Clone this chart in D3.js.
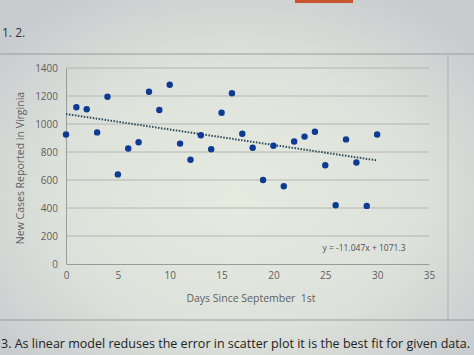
<!DOCTYPE html>
<html><head><meta charset="utf-8">
<script src="https://cdn.jsdelivr.net/npm/d3@7"></script>
<style>html,body{margin:0;padding:0;background:#d6d9d8;}svg{display:block;}</style>
</head><body><div id="c"></div>
<script>
const days = [0,1,2,3,4,5,6,7,8,9,10,11,12,13,14,15,16,17,18,19,20,21,22,23,24,25,26,27,28,29,30];
const cases = [925,1120,1105,940,1195,640,825,870,1230,1100,1280,860,745,920,820,1080,1220,930,830,600,845,555,875,910,945,705,420,890,725,415,925];
const xTicks = [0,5,10,15,20,25,30,35];
const yTicks = [0,200,400,600,800,1000,1200,1400];
const slope = -11.047, intercept = 1071.3;
const trendX = [0,30];

const W=474,H=355;
const svg=d3.select("#c").append("svg").attr("width",W).attr("height",H);
const defs=svg.append("defs");
const g1=defs.append("radialGradient").attr("id","bg").attr("cx","50%").attr("cy","55%").attr("r","65%");
g1.append("stop").attr("offset","0%").attr("stop-color","#e6ebe0");
g1.append("stop").attr("offset","60%").attr("stop-color","#dde1db");
g1.append("stop").attr("offset","100%").attr("stop-color","#c9ccce");
svg.append("rect").attr("width",W).attr("height",H).attr("fill","url(#bg)");
svg.append("rect").attr("x",295).attr("y",0).attr("width",58).attr("height",3).attr("fill","#c9542d");

svg.append("text").attr("x",2).attr("y",37).attr("font-family","Open Sans").attr("font-size",12).attr("fill","#333").text("1. 2.");
svg.append("line").attr("x1",0).attr("x2",474).attr("y1",54).attr("y2",54).attr("stroke","#9a9c9b").attr("stroke-width",1);
svg.append("line").attr("x1",448).attr("x2",448).attr("y1",54).attr("y2",320).attr("stroke","#a8aaa9").attr("stroke-width",0.8);
svg.append("line").attr("x1",0).attr("x2",474).attr("y1",320).attr("y2",320).attr("stroke","#9a9c9b");

const x=d3.scaleLinear().domain([0,35]).range([66,429]);
const y=d3.scaleLinear().domain([0,1400]).range([264,68]);

const grid=svg.append("g");
grid.selectAll("line").data(yTicks.filter(d=>d>0)).join("line")
 .attr("x1",x(0)).attr("x2",x(35)).attr("y1",d=>y(d)).attr("y2",d=>y(d))
 .attr("stroke","#a9aba6").attr("stroke-width",0.8);

const xa=svg.append("g").attr("transform",`translate(0,${y(0)})`)
 .call(d3.axisBottom(x).tickValues(xTicks).tickFormat(d3.format("d")).tickSize(0).tickPadding(8));
xa.select(".domain").attr("stroke","#9a9c98");
xa.selectAll("text").attr("font-family","Open Sans").attr("font-size",10).attr("fill","#5d5f5e");
const ya=svg.append("g").attr("transform",`translate(${x(0)},0)`)
 .call(d3.axisLeft(y).tickValues(yTicks).tickFormat(d3.format("d")).tickSize(0).tickPadding(8));
ya.select(".domain").attr("stroke","#9a9c98");
ya.selectAll("text").attr("font-family","Open Sans").attr("font-size",10).attr("fill","#5d5f5e");

svg.append("text").attr("transform","translate(24,168) rotate(-90)").attr("text-anchor","middle")
 .attr("font-family","Open Sans").attr("font-size",10.5).attr("fill","#5d5f5e").text("New Cases Reported in Virginia");
svg.append("text").attr("x",251).attr("y",302).attr("text-anchor","middle")
 .attr("font-family","Open Sans").attr("font-size",10.5).attr("fill","#5d5f5e").attr("xml:space","preserve").text("Days Since September  1st");

const line=d3.line().x(d=>x(d)).y(d=>y(slope*d+intercept));
svg.append("path").attr("d",line(trendX)).attr("fill","none").attr("stroke","#2a4a5a")
 .attr("stroke-width",2).attr("stroke-dasharray","1.5,1.5");

svg.append("g").selectAll("circle").data(days).join("circle")
 .attr("cx",d=>x(d)).attr("cy",(d,i)=>y(cases[i])).attr("r",3.2).attr("fill","#0d3a93");

svg.append("text").attr("x",364).attr("y",251).attr("text-anchor","middle")
 .attr("font-family","Open Sans").attr("font-size",8.5).attr("fill","#4d4f4e").text("y = -11.047x + 1071.3");

svg.append("text").attr("x",1).attr("y",348).attr("font-family","Open Sans").attr("font-size",12.5).attr("fill","#222")
 .attr("textLength",469).attr("lengthAdjust","spacingAndGlyphs")
 .text("3. As linear model reduses the error in scatter plot it is the best fit for given data.");
</script></body></html>
